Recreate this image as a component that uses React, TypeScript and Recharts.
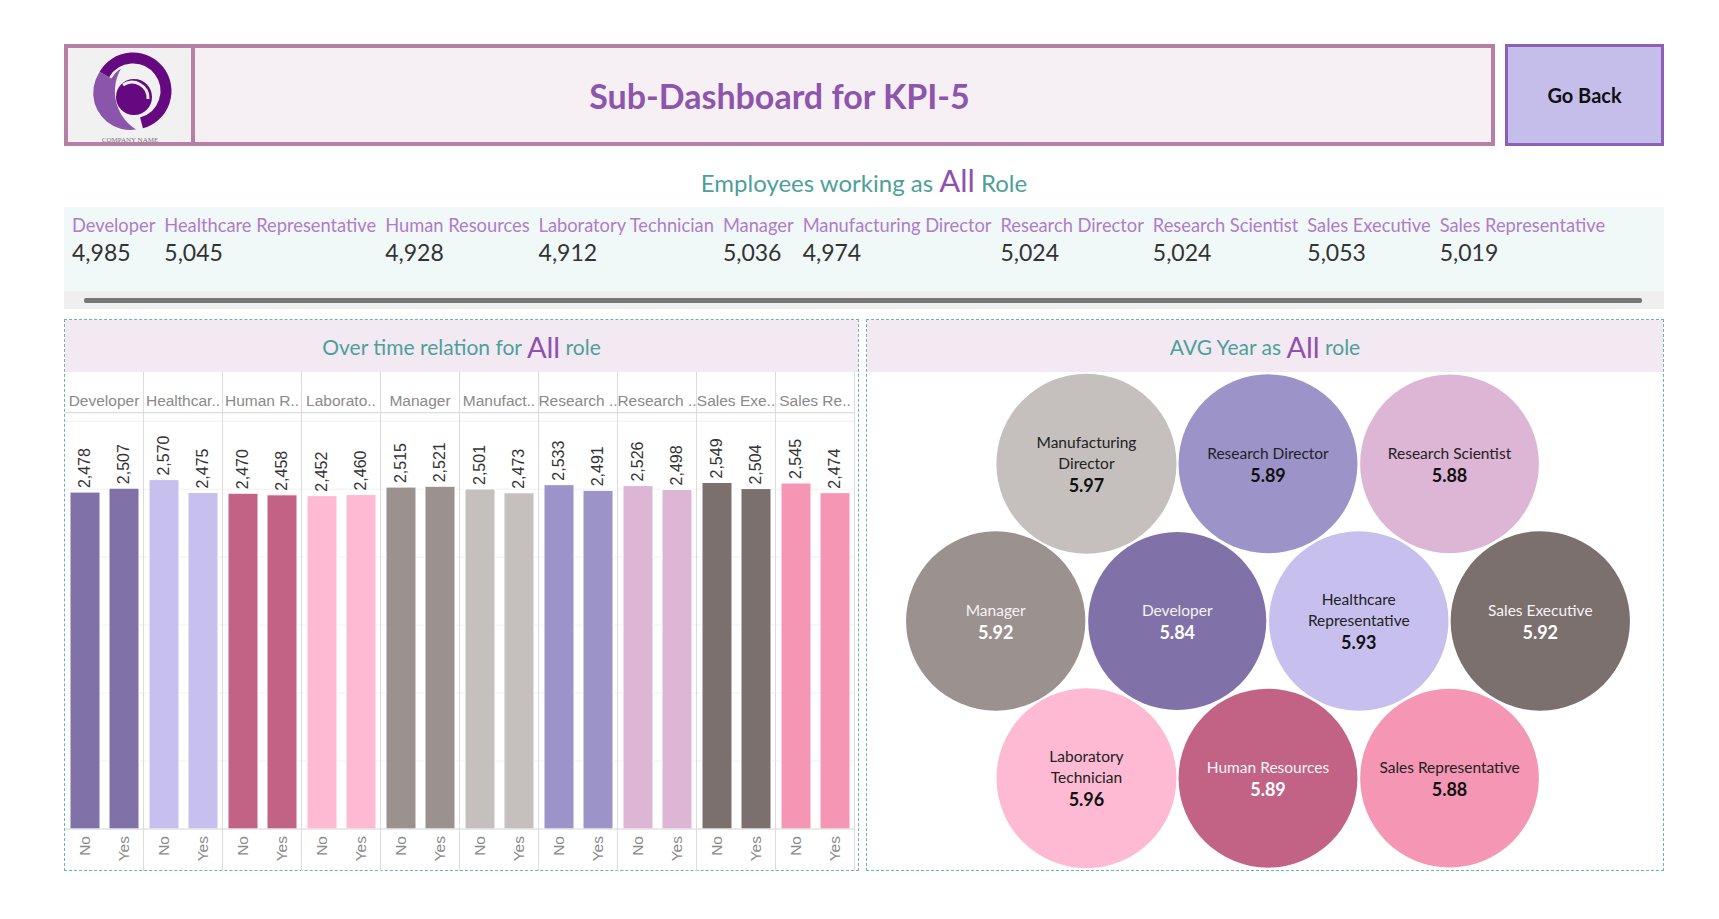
import React from 'react';
import {
  BarChart, Bar, XAxis, YAxis, ZAxis, CartesianGrid, LabelList, ScatterChart, Scatter,
} from 'recharts';

// roles in alphabetical order, as Tableau lists them
const roles = [
  'Developer', 'Healthcare Representative', 'Human Resources', 'Laboratory Technician', 'Manager',
  'Manufacturing Director', 'Research Director', 'Research Scientist', 'Sales Executive', 'Sales Representative',
];
const roleHeaders = [
  'Developer', 'Healthcar..', 'Human R..', 'Laborato..', 'Manager',
  'Manufact..', 'Research ..', 'Research ..', 'Sales Exe..', 'Sales Re..',
];
const roleColors = [
  '#8072a8', '#c7c0ee', '#c26386', '#fdbad2', '#9b918e',
  '#c5c0bd', '#9c94c8', '#ddb5d5', '#7b706e', '#f596b4',
];
const employeeCounts = [4985, 5045, 4928, 4912, 5036, 4974, 5024, 5024, 5053, 5019];
const attrition = ['No', 'Yes'];
const overtimeNo = [2478, 2570, 2470, 2452, 2515, 2501, 2533, 2526, 2549, 2545];
const overtimeYes = [2507, 2475, 2458, 2460, 2521, 2473, 2491, 2498, 2504, 2474];
const yTicks = [0, 500, 1000, 1500, 2000, 2500, 3000];
const avgYears = [5.84, 5.93, 5.89, 5.96, 5.92, 5.97, 5.89, 5.88, 5.92, 5.88];
// packed bubble order, row by row
const bubbleOrder = [
  'Manufacturing Director', 'Research Director', 'Research Scientist',
  'Manager', 'Developer', 'Healthcare Representative', 'Sales Executive',
  'Laboratory Technician', 'Human Resources', 'Sales Representative',
];
const bubbleRows = [3, 4, 3];

const TEAL = '#4e9f9a';
const PURPLE = '#9050b0';
const FONT = 'Lato, "Open Sans", sans-serif';
const AXIS_FONT = '"Liberation Sans", Arial, sans-serif';

const fmt = (v: number) => v.toLocaleString('en-US');

const bubbleData = (() => {
  const out: any[] = [];
  let k = 0;
  bubbleRows.forEach((n, r) => {
    const shift = n === Math.max(...bubbleRows) ? 0 : 0.5;
    for (let c = 0; c < n; c++) {
      const name = bubbleOrder[k++];
      const i = roles.indexOf(name);
      out.push({ name, x: c + shift, y: r, avg: avgYears[i], color: roleColors[i] });
    }
  });
  return out;
})();

function isDark(hex: string) {
  const r = parseInt(hex.slice(1, 3), 16);
  const g = parseInt(hex.slice(3, 5), 16);
  const b = parseInt(hex.slice(5, 7), 16);
  return 0.299 * r + 0.587 * g + 0.114 * b < 152;
}

const AttTick = (props: any) => {
  const { x, y, payload } = props;
  const ty = y + 5;
  return (
    <text x={x} y={ty} transform={`rotate(-90 ${x} ${ty})`} textAnchor="end" dominantBaseline="central"
      fill="#8a8a8a" fontSize={15.5} fontFamily={AXIS_FONT}>
      {payload.value}
    </text>
  );
};

const ValueLabel = (props: any) => {
  const { x, y, width, value } = props;
  const cx = x + width / 2;
  const ty = y - 4;
  return (
    <text x={cx} y={ty} transform={`rotate(-90 ${cx} ${ty})`} textAnchor="start" dominantBaseline="central"
      fill="#333" fontSize={16} fontFamily={AXIS_FONT}>
      {fmt(value)}
    </text>
  );
};

function Pane({ i }: { i: number }) {
  const data = attrition.map((a, k) => ({ att: a, value: k === 0 ? overtimeNo[i] : overtimeYes[i] }));
  return (
    <div style={{ width: 79, height: 499, borderRight: '1px solid #dcdcdc', boxSizing: 'border-box' }}>
      <div style={{
        height: 41, borderBottom: '1px solid #dcdcdc', boxSizing: 'border-box', display: 'flex',
        alignItems: 'flex-end', justifyContent: 'center', paddingBottom: 2, fontSize: 15.5, color: '#8a8a8a',
        fontFamily: AXIS_FONT, whiteSpace: 'nowrap', overflow: 'hidden',
      }}>
        {roleHeaders[i]}
      </div>
      <BarChart width={78} height={458} data={data} margin={{ top: 0, right: 0, bottom: 0, left: 0 }} barSize={30}>
        <CartesianGrid vertical={false} stroke="#f0f0f0" />
        <YAxis hide domain={[0, 3060]} ticks={yTicks} />
        <XAxis dataKey="att" height={42} interval={0} tickLine={false} tickSize={0}
          axisLine={{ stroke: '#dcdcdc' }} tick={<AttTick />} />
        <Bar dataKey="value" fill={roleColors[i]} stroke="#ffffff" strokeWidth={1} isAnimationActive={false}>
          <LabelList dataKey="value" content={<ValueLabel />} />
        </Bar>
      </BarChart>
    </div>
  );
}

const Bubble = (props: any) => {
  const { cx, cy, size, payload } = props;
  const r = size ? Math.sqrt(size / Math.PI) : 90;
  const dark = isDark(payload.color);
  const name: string = payload.name;
  const lines = name.length > 20 ? [name.slice(0, name.indexOf(' ')), name.slice(name.indexOf(' ') + 1)] : [name];
  const start = lines.length === 2 ? cy - 22 : cy - 11;
  return (
    <g>
      <circle cx={cx} cy={cy} r={r} fill={payload.color} />
      {lines.map((l, k) => (
        <text key={k} x={cx} y={start + k * 21} textAnchor="middle" dominantBaseline="central"
          fontSize={15.5} fontFamily={FONT} fill={dark ? '#f4f4f4' : '#222'}>{l}</text>
      ))}
      <text x={cx} y={start + lines.length * 21 + 1} textAnchor="middle" dominantBaseline="central"
        fontSize={18} fontWeight={700} fontFamily={FONT} fill={dark ? '#ffffff' : '#111'}>
        {payload.avg.toFixed(2)}
      </text>
    </g>
  );
};

function Logo() {
  const arc = 'M -25.6 -16.5 A 33 33 0 1 1 11.5 31.9';
  return (
    <svg width={118} height={97} style={{ display: 'block' }}>
      <g transform="translate(61 42)">
        <path d="M 2 -35 A 37 37 0 1 0 6 38.5 A 45 45 0 0 1 2 -35 Z" fill="#8a55aa" />
        <path d={arc} stroke="#f1f1f1" strokeWidth={16} fill="none" />
        <path d={arc} stroke="#66087f" strokeWidth={11} fill="none" />
        <circle cx={4} cy={6} r={18} fill="#66087f" />
        <path d="M -7 -6 A 16 16 0 0 1 18 8" stroke="#f1f1f1" strokeWidth={3} fill="none" />
      </g>
      <text x={61} y={93} textAnchor="middle" fontSize={7} fill="#777" fontFamily="'Liberation Serif', serif">COMPANY NAME</text>
    </svg>
  );
}

function PanelTitle({ pre, post }: { pre: string; post: string }) {
  return (
    <div style={{
      height: 52, background: '#f2e9f3', display: 'flex', alignItems: 'center', justifyContent: 'center',
      fontFamily: FONT, color: TEAL, fontSize: 21, whiteSpace: 'pre',
    }}>
      <span>{pre}</span>
      <span style={{ color: PURPLE, fontSize: 29, lineHeight: '29px' }}>All</span>
      <span>{post}</span>
    </div>
  );
}

export default function App() {
  return (
    <div style={{ position: 'relative', width: 1719, height: 919, background: '#fff', fontFamily: FONT, overflow: 'hidden' }}>
      <style>{'body{margin:0}'}</style>

      {/* header */}
      <div style={{
        position: 'absolute', left: 64, top: 44, width: 1431, height: 102, boxSizing: 'border-box',
        border: '4px solid #b57fa6', background: '#f6f0f5',
      }} />
      <div style={{
        position: 'absolute', left: 64, top: 44, width: 131, height: 102, boxSizing: 'border-box',
        border: '4px solid #b57fa6', background: '#f6f0f5', padding: 1,
      }}>
        <div style={{ background: '#f1f1f1', width: '100%', height: '100%' }}><Logo /></div>
      </div>
      <div style={{
        position: 'absolute', left: 64, top: 44, width: 1431, height: 102, display: 'flex',
        alignItems: 'center', justifyContent: 'center', fontSize: 34, fontWeight: 700, color: '#8e55ac',
      }}>
        Sub-Dashboard for KPI-5
      </div>
      <div style={{
        position: 'absolute', left: 1505, top: 44, width: 159, height: 102, boxSizing: 'border-box',
        border: '3px solid #8e5fb5', background: '#c5bdea', display: 'flex', alignItems: 'center',
        justifyContent: 'center', fontSize: 20, fontWeight: 700, color: '#111',
      }}>
        Go Back
      </div>

      {/* employees KPI */}
      <div style={{
        position: 'absolute', left: 0, top: 162, width: 1728, textAlign: 'center', fontSize: 24,
        color: TEAL, whiteSpace: 'pre', lineHeight: '36px',
      }}>
        Employees working as <span style={{ color: PURPLE, fontSize: 31 }}>All</span> Role
      </div>
      <div style={{ position: 'absolute', left: 64, top: 207, width: 1600, height: 84, background: '#f0f8f8' }}>
        <div style={{ display: 'flex', gap: 9, paddingLeft: 8, paddingTop: 7 }}>
          {roles.map((r, i) => (
            <div key={r} style={{ whiteSpace: 'nowrap' }}>
              <div style={{ fontSize: 18.3, color: '#b07cc8', lineHeight: '23px' }}>{r}</div>
              <div style={{ fontSize: 23, color: '#333', lineHeight: '30px' }}>{fmt(employeeCounts[i])}</div>
            </div>
          ))}
        </div>
      </div>
      <div style={{ position: 'absolute', left: 64, top: 291, width: 1600, height: 18, background: '#efefef' }}>
        <div style={{ position: 'absolute', left: 20, top: 7, width: 1558, height: 5, background: '#777', borderRadius: 2 }} />
      </div>

      {/* over time panel */}
      <div style={{
        position: 'absolute', left: 64, top: 319, width: 795, height: 552, boxSizing: 'border-box',
        border: '1px dashed #6bb5ae',
      }}>
        <PanelTitle pre="Over time relation for " post=" role" />
        <div style={{ display: 'flex' }}>
          {roles.map((r, i) => <Pane key={r} i={i} />)}
        </div>
      </div>

      {/* avg year panel */}
      <div style={{
        position: 'absolute', left: 866, top: 319, width: 798, height: 552, boxSizing: 'border-box',
        border: '1px dashed #6bb5ae',
      }}>
        <PanelTitle pre="AVG Year as " post=" role" />
        <ScatterChart width={796} height={498} margin={{ top: 0, right: 0, bottom: 0, left: 0 }}>
          <XAxis type="number" dataKey="x" hide domain={[-0.709, 3.676]} allowDataOverflow />
          <YAxis type="number" dataKey="y" hide reversed domain={[-0.584, 2.584]} allowDataOverflow />
          <ZAxis type="number" dataKey="avg" domain={[0, 6]} range={[0, 25600]} />
          <Scatter data={bubbleData} shape={<Bubble />} isAnimationActive={false} />
        </ScatterChart>
      </div>
    </div>
  );
}
